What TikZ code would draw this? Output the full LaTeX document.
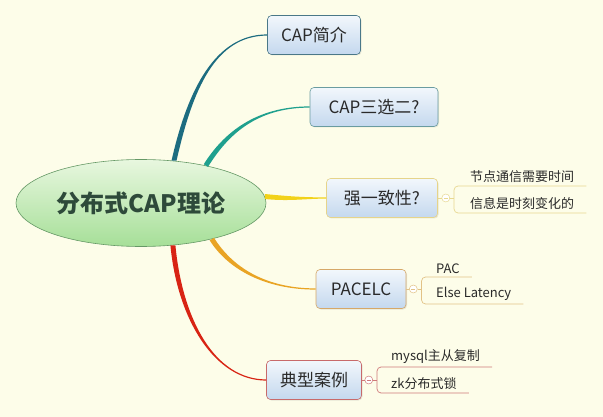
\documentclass[tikz,border=0pt]{standalone}
\usepackage{fontspec}
\setmainfont{Noto Sans CJK SC}
\usepackage{tikz}
\usetikzlibrary{calc, shapes.geometric, shadows}

\definecolor{paper}{HTML}{FDFDE9}
\definecolor{branchIntro}{HTML}{1C6C80}
\definecolor{branchChoose}{HTML}{1FA08E}
\definecolor{branchStrong}{HTML}{F2D21A}
\definecolor{branchPacelc}{HTML}{E9A424}
\definecolor{branchCases}{HTML}{D82414}
\definecolor{edgeIntro}{HTML}{4A7888}
\definecolor{edgeChoose}{HTML}{6A9CA0}
\definecolor{edgeStrong}{HTML}{E6D48A}
\definecolor{edgePacelc}{HTML}{D6A868}
\definecolor{edgeCases}{HTML}{C86A6A}
\definecolor{twigStrong}{HTML}{E8D890}
\definecolor{twigPacelc}{HTML}{E2C286}
\definecolor{twigCases}{HTML}{CF7A7A}
\definecolor{boxTop}{HTML}{F2F7FC}
\definecolor{boxBottom}{HTML}{C4D8EE}
\definecolor{rootTop}{HTML}{E8F7DF}
\definecolor{rootBottom}{HTML}{A6DF98}
\definecolor{rootText}{HTML}{2E4A3A}
\definecolor{textDark}{HTML}{2A2A2A}

\tikzset{
	topic/.style = {draw = #1, line width = 0.6pt, rounded corners = 4pt, top color = boxTop, bottom color = boxBottom, minimum height = 39pt, text = textDark, font = \fontsize{17}{20}\selectfont, drop shadow = {opacity = 0.18, shadow xshift = 1pt, shadow yshift = -1pt}},
	fold/.style = {circle, draw = #1, fill = white, line width = 0.5pt, minimum size = 8pt, inner sep = 0pt, path picture = {\draw [#1] ([xshift = -2pt]path picture bounding box.center) -- ([xshift = 2pt]path picture bounding box.center);}},
	twig/.style = {draw = #1, line width = 0.7pt},
	leaf/.style = {anchor = south west, inner xsep = 0pt, inner ysep = 3pt, text = textDark, font = \fontsize{13}{15}\selectfont}
}

\begin{document}
\begin{tikzpicture}[x = 1pt, y = -1pt]
					\fill [paper] (0,0) rectangle (603,417);
					\useasboundingbox (0,0) rectangle (603,417);

					\newcommand{\drawBranch}[6]
					{
						\fill [#1] ($#2+#6$) .. controls ($#3+#6$) and ($#4+(0,-0.6)$) .. ($#5+(0,-0.6)$) -- ($#5+(0,0.6)$) .. controls ($#4+(0,0.6)$) and ($#3-#6$) .. ($#2-#6$) -- cycle
					}

					\newcommand{\drawSubBranch}[5]
					{
						\draw [twig = #1] (#2) -- (#3);
						\draw [twig = #1, rounded corners = 4pt] ($(#4.south east)+(12,0)$) -| ($(#3.east)+(4,0)$) |- ($(#5.south east)+(12,0)$);
						\draw [twig = #1] (#3) -- ($(#3.east)+(4,0)$)
					}

					\node [ellipse, draw = gray!80!green, line width = 0.6pt, minimum width = 250pt, minimum height = 87pt, top color = rootTop, bottom color = rootBottom, text = rootText, font = \bfseries\fontsize{24}{28}\selectfont] (root) at (141,203) {分布式CAP理论};

					\begin{scope}
						\node [topic = edgeIntro, minimum width = 93pt] (intro) at (314,35) {CAP简介};
						\node [topic = edgeChoose, minimum width = 128pt] (choose) at (374,107) {CAP三选二?};
						\node [topic = edgeStrong, minimum width = 111pt] (strong) at (382,198) {强一致性?};
						\node [topic = edgePacelc, minimum width = 90pt] (pacelc) at (361,289) {PACELC};
						\node [topic = edgeCases, minimum width = 95pt] (cases) at (314,380) {典型案例};
					\end{scope}

					\begin{scope}
						\drawBranch{branchIntro}{(root.52)}{(190,90)}{(215,35)}{(intro.west)}{(-2.5,0)};
						\drawBranch{branchChoose}{(root.30)}{(225,135)}{(255,107)}{(choose.west)}{(-2.1,-1.3)};
						\drawBranch{branchStrong}{(root.3)}{(290,199)}{(305,198)}{(strong.west)}{(0,-2.5)};
						\drawBranch{branchPacelc}{(root.-27)}{(230,268)}{(265,289)}{(pacelc.west)}{(2.2,-1.2)};
						\drawBranch{branchCases}{(root.-53)}{(180,320)}{(215,380)}{(cases.west)}{(2.5,0)};
					\end{scope}

					\begin{scope}
						\node [fold = twigStrong] (strongDot) at ($(strong.east)+(8,0)$) {};
						\node [leaf] (strongA) at (470,186) {节点通信需要时间};
						\node [leaf] (strongB) at (470,213) {信息是时刻变化的};
						\drawSubBranch{twigStrong}{strong.east}{strongDot}{strongA}{strongB};

						\node [fold = twigPacelc] (pacelcDot) at ($(pacelc.east)+(7,0)$) {};
						\node [leaf] (pacelcA) at (436,277) {PAC};
						\node [leaf] (pacelcB) at (436,304) {Else Latency};
						\drawSubBranch{twigPacelc}{pacelc.east}{pacelcDot}{pacelcA}{pacelcB};

						\node [fold = twigCases] (casesDot) at ($(cases.east)+(7,0)$) {};
						\node [leaf] (casesA) at (391,367) {mysql主从复制};
						\node [leaf] (casesB) at (391,393) {zk分布式锁};
						\drawSubBranch{twigCases}{cases.east}{casesDot}{casesA}{casesB};
					\end{scope}
				\end{tikzpicture}
\end{document}
